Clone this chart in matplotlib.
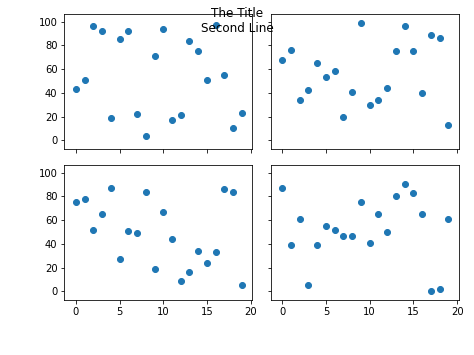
import matplotlib
matplotlib.use("Agg")
import matplotlib.pyplot as plt
import numpy as np

x = np.arange(20)

# values
top_left = [43, 51, 96, 92, 19, 85, 92, 22, 4, 71,
            94, 17, 21, 84, 75, 51, 97, 55, 10, 23]
top_right = [68, 76, 34, 42, 65, 53, 58, 20, 41, 99,
             30, 34, 44, 75, 96, 75, 40, 89, 86, 13]
bottom_left = [75, 78, 52, 65, 87, 27, 51, 49, 84, 19,
               67, 44, 9, 16, 34, 24, 33, 86, 84, 5]
bottom_right = [87, 39, 61, 5, 39, 55, 52, 47, 47, 75,
                41, 65, 50, 80, 90, 83, 65, 0, 2, 61]

fig, axs = plt.subplots(2, 2, sharex=True, sharey=True,
                        figsize=(474 / 72, 355 / 72), dpi=72)
fig.subplots_adjust(left=0.136, right=0.968, top=0.961, bottom=0.155,
                    wspace=0.098, hspace=0.118)

for ax, vals in zip(axs.flat, [top_left, top_right, bottom_left, bottom_right]):
    ax.scatter(x, vals)

axs[0, 0].set_xlim(-1.3, 20.2)
axs[0, 0].set_ylim(-7.3, 106.5)

fig.suptitle("The Title\nSecond Line")

fig.savefig("out.png", dpi=72)
